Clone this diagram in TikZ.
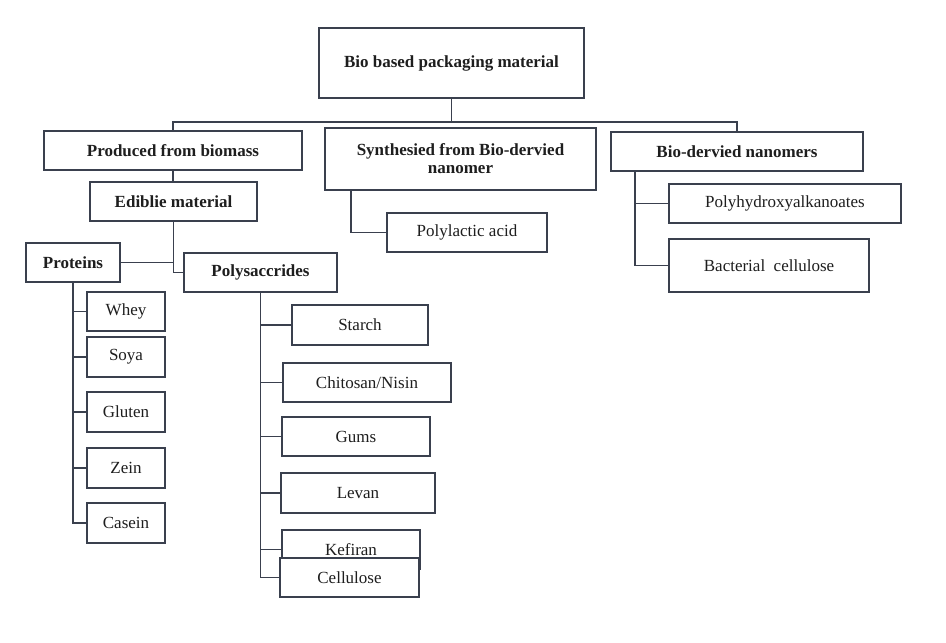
\documentclass[tikz,border=0pt]{standalone}
\usepackage{fontspec}
\setmainfont{Liberation Serif}
\definecolor{linec}{RGB}{58,64,78}
\definecolor{textc}{RGB}{30,30,30}
\begin{document}
\begin{tikzpicture}[x=1pt,y=-1pt,
  box/.style={draw=linec, line width=1.8pt, fill=white, inner sep=0pt, align=center,
    text=textc, font=\fontsize{17}{18}\selectfont},
  bbox/.style={box, font=\fontsize{17}{18}\selectfont\bfseries},
  conn/.style={draw=linec, line width=1.8pt}]
\useasboundingbox (0,0) rectangle (946,643);
% top level
\node[bbox, minimum width=265pt, minimum height=70pt] (root) at (451.5,63) {Bio based packaging material};
\node[bbox, minimum width=258pt, minimum height=39pt] (prod) at (173,150.5) {Produced from biomass};
\node[bbox, minimum width=271pt, minimum height=62pt] (synth) at (460.5,159) {Synthesied from Bio-dervied\\nanomer};
\node[bbox, minimum width=252pt, minimum height=39pt] (nano) at (737,151.5) {Bio-dervied nanomers};
% right branch
\node[box, minimum width=232pt, minimum height=39pt] (pha) at (785,203.5) {Polyhydroxyalkanoates};
\node[box, minimum width=200pt, minimum height=53pt] (bact) at (769,265.5) {Bacterial\ \ cellulose};
% middle branch
\node[box, minimum width=160pt, minimum height=39pt] (pla) at (467,232.5) {Polylactic acid};
% left branch
\node[bbox, minimum width=167pt, minimum height=39pt] (edible) at (173.5,201.5) {Ediblie material};
\node[bbox, minimum width=94pt, minimum height=39pt] (prot) at (73,262.5) {Proteins};
\node[bbox, minimum width=153pt, minimum height=39pt] (polys) at (260.5,272.5) {Polysaccrides};
% proteins
\node[box, minimum width=78pt, minimum height=39pt] (whey) at (126,311.5) {Whey};
\node[box, minimum width=78pt, minimum height=40pt] (soya) at (126,357) {Soya};
\node[box, minimum width=78pt, minimum height=40pt] (gluten) at (126,412) {Gluten};
\node[box, minimum width=78pt, minimum height=40pt] (zein) at (126,468) {Zein};
\node[box, minimum width=78pt, minimum height=40pt] (casein) at (126,523) {Casein};
% polysaccharides
\node[box, minimum width=136pt, minimum height=40pt] (starch) at (360,325) {Starch};
\node[box, minimum width=168pt, minimum height=39pt] (chito) at (367,382.5) {Chitosan/Nisin};
\node[box, minimum width=148pt, minimum height=39pt] (gums) at (356,436.5) {Gums};
\node[box, minimum width=154pt, minimum height=40pt] (levan) at (358,493) {Levan};
\node[box, minimum width=138pt, minimum height=39pt] (kef) at (351,549.5) {Kefiran};
\node[box, minimum width=139pt, minimum height=39pt] (cell) at (349.5,577.5) {Cellulose};
% connectors
\coordinate (bus) at (451.5,122);
\draw[conn] (root.south) -- (bus);
\draw[conn] (prod.north) |- (bus) -| (nano.north);
\draw[conn] ([xshift=27pt]synth.south west) |- (pla.west);
\draw[conn] ([xshift=25pt]nano.south west) |- (pha.west);
\draw[conn] ([xshift=25pt]nano.south west) |- (bact.west);
\draw[conn] (prod.south) -- (prod.south |- edible.north);
\draw[conn] (edible.south) |- (polys.west);
\draw[conn] (prot.east) -- (edible.south |- prot.east);
\draw[conn] (prot.south) |- (casein.west);
\foreach \n in {whey,soya,gluten,zein}
  \draw[conn] (prot.south |- \n.west) -- (\n.west);
\draw[conn] (polys.south) |- (cell.west);
\foreach \n in {starch,chito,gums,levan,kef}
  \draw[conn] (polys.south |- \n.west) -- (\n.west);
\end{tikzpicture}
\end{document}
